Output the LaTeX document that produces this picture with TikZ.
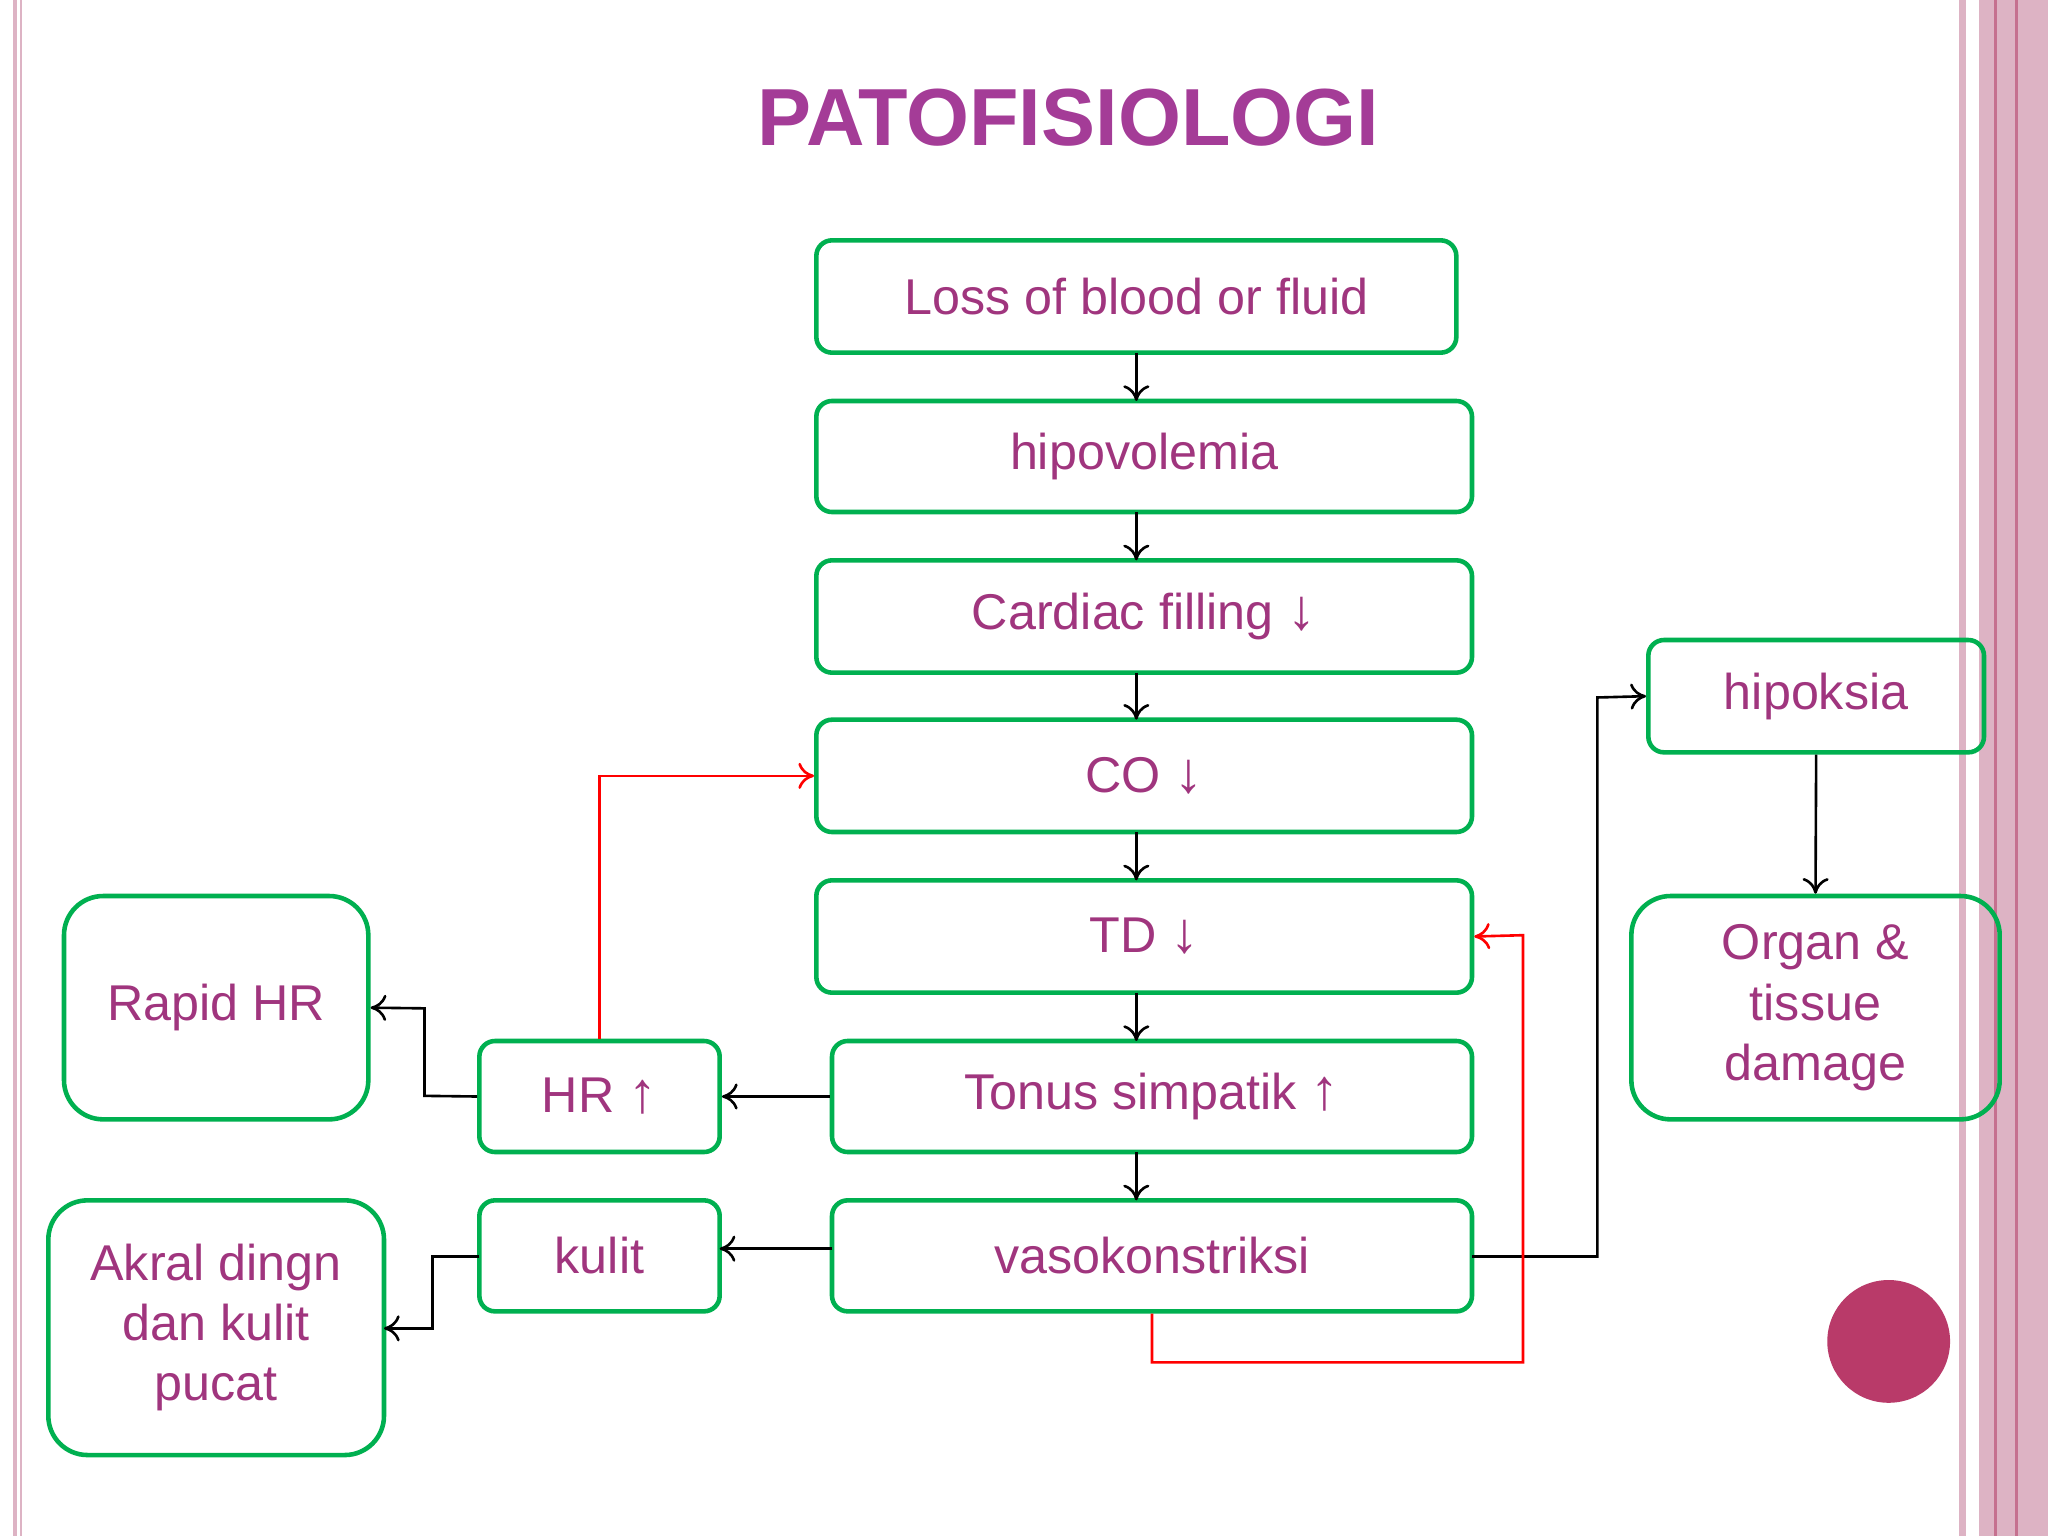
\documentclass[tikz,border=0pt]{standalone}
\usepackage{fontspec}
\setmainfont{Liberation Sans}
\usetikzlibrary{arrows.meta}
\definecolor{gr}{HTML}{00B050}
\definecolor{tx}{HTML}{A0357E}
\definecolor{tt}{HTML}{A43C97}
\definecolor{pk}{HTML}{DDB3C4}
\definecolor{pkd}{HTML}{C5708F}
\definecolor{dot}{HTML}{B93A69}
\newcommand{\bigarr}[1]{{\fontsize{44}{46}\selectfont #1}}
\begin{document}
\begin{tikzpicture}[x=1pt,y=-1pt,
 box/.style={draw=gr,line width=3.5pt,rounded corners=12pt,text=tx,font=\fontsize{38.5}{46}\selectfont,align=center,inner sep=0pt},
 ar/.style={-{To[length=12pt,width=20pt]},line width=2pt},
 rar/.style={ar,red}]
\useasboundingbox (0,0) rectangle (1568,1176);
\fill[white] (0,0) rectangle (1568,1176);
% borders
\fill[pk] (10,0) rectangle (13,1176);
\fill[pk] (15,0) rectangle (17,1176);
\fill[pk] (1500,0) rectangle (1505,1176);
\fill[pk] (1515,0) rectangle (1568,1176);
\fill[pkd] (1527,0) rectangle (1529,1176);
\fill[pkd] (1543,0) rectangle (1545,1176);
\node[text=tt,font=\fontsize{62}{70}\selectfont\bfseries] (title) at (818,90) {PATOFISIOLOGI};
\node[box,minimum width=490pt,minimum height=86pt] (loss) at (870,227) {Loss of blood or fluid};
\node[box,minimum width=502pt,minimum height=85pt] (hipo) at (876,349.5) {hipovolemia};
\node[box,minimum width=502pt,minimum height=86pt] (card) at (876,472) {Cardiac filling \bigarr{↓}};
\node[box,minimum width=502pt,minimum height=86pt] (co) at (876,594) {CO \bigarr{↓}};
\node[box,minimum width=502pt,minimum height=86pt] (td) at (876,717) {TD \bigarr{↓}};
\node[box,minimum width=490pt,minimum height=85pt] (ton) at (882,839.5) {Tonus simpatik \bigarr{↑}};
\node[box,minimum width=490pt,minimum height=85pt] (vaso) at (882,961.5) {vasokonstriksi};
\node[box,minimum width=184pt,minimum height=85pt] (hr) at (459,839.5) {HR \bigarr{↑}};
\node[box,minimum width=184pt,minimum height=85pt] (kul) at (459,961.5) {kulit};
\node[box,minimum width=233pt,minimum height=171pt,rounded corners=30pt] (rap) at (165.5,771.5) {Rapid HR};
\node[box,minimum width=257pt,minimum height=195pt,rounded corners=30pt] (akr) at (165.5,1016.5) {Akral dingn\\dan kulit\\pucat};
\node[box,minimum width=257pt,minimum height=86pt] (hpk) at (1390.5,533) {hipoksia};
\node[box,minimum width=282pt,minimum height=171pt,rounded corners=30pt] (org) at (1390,771.5) {Organ \&\\tissue\\damage};
\fill[dot] (1446,1027) circle (47);
% arrows
\draw[ar] (870,270) -- (870,307);
\draw[ar] (870,392) -- (870,429);
\draw[ar] (870,515) -- (870,551);
\draw[ar] (870,637) -- (870,674);
\draw[ar] (870,760) -- (870,797);
\draw[ar] (870,882) -- (870,919);
\draw[ar] (ton.west) -- (hr.east);
\draw[ar] (hr.west) -- (325,839) -- (325,772) -- (rap.east);
\draw[rar] (hr.north) -- (459,594) -- (co.west);
\draw[ar] (637,956) -- (551,956);
\draw[ar] (367,962) -- (331,962) -- (331,1017) -- (294,1017);
\draw[ar] (1127,962) -- (1223,962) -- (1223,534) -- (hpk.west);
\draw[ar] (hpk.south) -- (org.north);
\draw[rar] (vaso.south) -- (882,1043) -- (1166,1043) -- (1166,716) -- (td.east);
\end{tikzpicture}
\end{document}
